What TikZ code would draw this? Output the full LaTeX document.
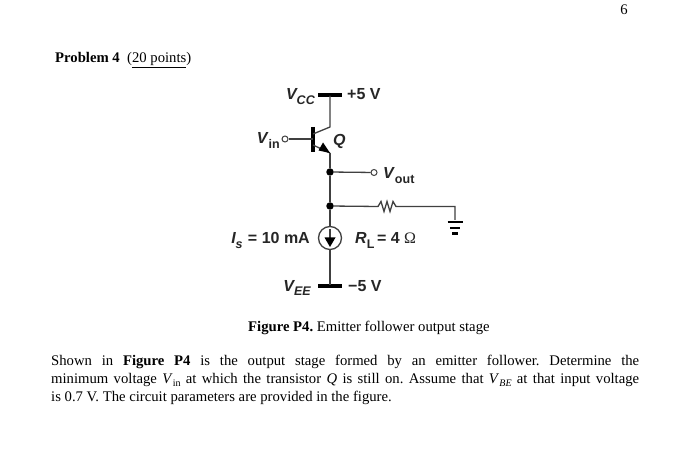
\documentclass[tikz,border=0pt]{standalone}
\usepackage{fontspec}
\setmainfont{Liberation Serif}
\setsansfont{Liberation Sans}
\usepackage{tikz}
\frenchspacing
\newcommand{\lowtxt}[1]{\raisebox{-0.22em}{\fontsize{10}{10}\selectfont #1}}
\newcommand{\lowbig}[1]{\raisebox{-0.3em}{\fontsize{12.5}{12.5}\selectfont #1}}
\tikzset{
  wire/.style={line width=1.3pt,black!75},
  rail/.style={line width=3.6pt,black},
  lab/.style={font=\sffamily\bfseries\fontsize{16}{16}\selectfont,inner sep=0pt,text=black!85},
  para/.style={font=\fontsize{14.7}{18}\selectfont,inner sep=0pt},
  dotnode/.style={circle,fill=black,inner sep=0pt,minimum size=7.5pt},
  pin/.style={circle,draw,black!75,fill=white,line width=1pt,inner sep=0pt,minimum size=6pt},
}
\begin{document}
\begin{tikzpicture}[x=1pt,y=-1pt]
      \useasboundingbox[fill=white] (0,0) rectangle (677,470);
      % Rails
      \node[inner sep=0pt] (vcc) at (330,95) {};
      \node[inner sep=0pt] (vee) at (330,286) {};
      \draw[rail] (318,95) -- (342,95);
      \draw[rail] (318,286) -- (342,286);
      % Transistor
      \coordinate (coll) at (330,127);
      \coordinate (bc) at (313,134);
      \coordinate (be) at (313,145);
      \coordinate (emit) at (330,153);
      \coordinate (base) at (313,139);
      \node[pin] (vin) at (285,139) {};
      \draw[rail] (313,127) -- (313,152);
      \draw[wire] (vcc) -- (coll) -- (bc);
      \draw[wire] (vin) -- (base);
      \draw[wire] (be) -- (emit);
      \fill[black] (330,153) -- (318.5,150.5) -- (323,142.5) -- cycle;
      % Knots
      \node[dotnode] (nout) at (330,172) {};
      \node[dotnode] (nload) at (330,206) {};
      \node[pin] (vout) at (374,172.5) {};
      \draw[wire] (emit) -- (nout) -- (nload);
      \draw[wire] (nout) -- (vout);
      % Last
      \coordinate (gnd) at (455,220);
      \draw[wire] (nload) -- (378,206.5) -- ++(3,-5) -- ++(3,10) -- ++(3,-10) -- ++(3,10) -- ++(3,-10) -- ++(3,5) -- (455,206.5) -- (gnd);
      % Jord
      \foreach \y/\w in {222/7.5,228/5,233.5/3}
        \draw[line width=2.6pt,black] (455-\w,\y) -- (455+\w,\y);
      % Kalla
      \node[circle,draw,black!75,line width=1.3pt,inner sep=0pt,minimum size=23pt] (src) at (330,238) {};
      \draw[wire] (nload) -- (src);
      \draw[wire] (src) -- (vee);
      \draw[wire] (330,229) -- (330,240);
      \fill[black] (330,247) -- (324.5,237.5) -- (335.5,237.5) -- cycle;
      % Kretstexter
      \node[lab,anchor=base east] (lcc) at (315,100) {\textit{V\lowbig{CC}}};
      \node[lab,anchor=base west] (lp) at (347,100) {+5 V};
      \node[lab,anchor=base east] (lin) at (280,144) {\textit{V}\lowbig{in}};
      \node[lab,anchor=base west] (lq) at (333,146) {\textit{Q}};
      \node[lab,anchor=base west] (lout) at (383,179) {\textit{V}\lowbig{out}};
      \node[lab,anchor=base east] (lis) at (310,244) {\textit{I\lowbig{s}}\,\,= 10 mA};
      \node[lab,anchor=base west] (lrl) at (355,244) {\textit{R}\lowbig{L}\,= 4 {\rmfamily\mdseries Ω}};
      \node[lab,anchor=base east] (lee) at (311,291) {\textit{V\lowbig{EE}}};
      \node[lab,anchor=base west] (lm) at (348,291) {−5 V};
      % Text
      \node[para,anchor=base east] (page) at (628,15) {6};
      \node[para,anchor=base west] (head) at (55,63) {\textbf{Problem 4}\ \ (\underline{20 points})};
      \node[para,anchor=base west] (cap) at (248,331) {\textbf{Figure P4.} Emitter follower output stage};
      \node[para,anchor=north west,text width=588pt,align=justify] (body) at (51,355) {Shown in \textbf{Figure P4} is the output stage formed by an emitter follower. Determine the\linebreak minimum voltage \textit{V}\lowtxt{in} at which the transistor \textit{Q} is still on. Assume that \textit{V}\lowtxt{\textit{BE}} at that input voltage\linebreak is 0.7 V. The circuit parameters are provided in the figure.};
    \end{tikzpicture}
\end{document}
